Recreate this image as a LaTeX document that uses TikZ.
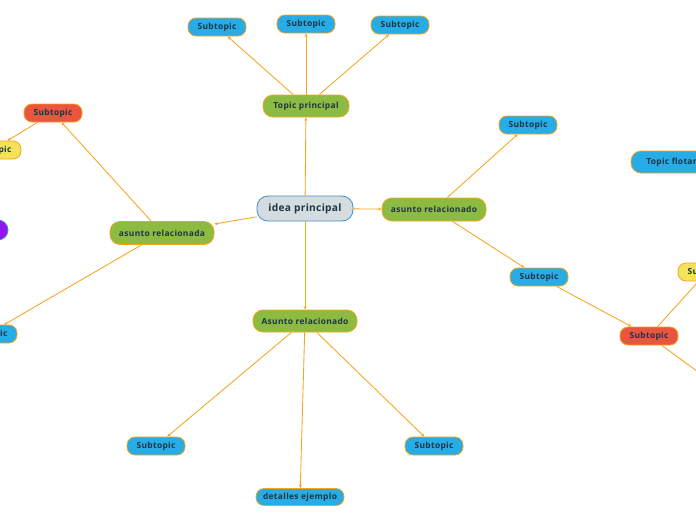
\documentclass[tikz,border=0pt]{standalone}
\usepackage{fontspec}
\setmainfont{Open Sans}
\definecolor{mapline}{HTML}{F6A31E}
\definecolor{mapgreen}{HTML}{8BBC41}
\definecolor{mapblue}{HTML}{27ACE6}
\definecolor{mapred}{HTML}{E9553F}
\definecolor{mapyellow}{HTML}{F3E35A}
\definecolor{mappurple}{HTML}{9513F0}
\definecolor{mapgray}{HTML}{D4DCE0}
\definecolor{mapframe}{HTML}{3E8FD2}
\definecolor{maptext}{HTML}{1C3547}
\usetikzlibrary{arrows.meta, positioning}

\begin{document}
\begin{tikzpicture}[x=1pt, y=-1pt,
    central/.style={rectangle, rounded corners=11pt, fill=mapgray, draw=mapframe,
                    line width=0.8pt, minimum width=96pt, minimum height=25pt,
                    font=\bfseries\fontsize{10.2}{12}\selectfont\addfontfeatures{LetterSpace=3},
                    text=maptext},
    topic/.style={rectangle, rounded corners=10pt, fill=mapgreen, draw=mapline,
                  line width=0.8pt, minimum width=104pt, minimum height=23pt,
                  font=\bfseries\fontsize{8.4}{10}\selectfont\addfontfeatures{LetterSpace=4},
                  text=maptext},
    sub/.style={rectangle, rounded corners=8pt, fill=mapblue, draw=mapline,
                line width=0.8pt, minimum width=58pt, minimum height=18pt,
                font=\bfseries\fontsize{8.4}{10}\selectfont\addfontfeatures{LetterSpace=4},
                text=maptext},
    subred/.style={sub, fill=mapred},
    subyellow/.style={sub, fill=mapyellow},
    link/.style={-{Stealth[length=3.5pt, width=3pt]}, mapline, line width=0.85pt}
  ]
    \useasboundingbox (0,0) rectangle (696,520);
    \clip (0,0) rectangle (696,520);
    % Central idea
    \node[central] (idea) at (305, 208.5) {idea principal};
    % Main topics
    \node[topic, minimum width=86pt, minimum height=22pt] (tp) at (306, 106) {Topic principal};
    \node[topic] (ar) at (434, 209.5) {asunto relacionado};
    \node[topic] (al) at (162, 233) {asunto relacionada};
    \node[topic, minimum height=22pt] (ab) at (305, 321) {Asunto relacionado};
    % Subtopics (top)
    \node[sub] (t1) at (217, 27) {Subtopic};
    \node[sub] (t2) at (306, 24) {Subtopic};
    \node[sub] (t3) at (400, 25) {Subtopic};
    % Subtopics (right)
    \node[sub] (r1) at (528, 125) {Subtopic};
    \node[sub] (r2) at (539, 277) {Subtopic};
    \node[subred] (r3) at (649, 336) {Subtopic};
    \node[subyellow] (r4) at (707, 272) {Subtopic};
    \coordinate (r5) at (720, 388);
    % Subtopics (left)
    \node[subred] (l1) at (53, 113) {Subtopic};
    \node[subyellow] (l2) at (-8, 150) {Subtopic};
    \node[sub] (l3) at (-12, 334) {Subtopic};
    \node[circle, fill=mappurple, draw=mapframe, line width=0.8pt,
          minimum size=20pt] (dot) at (-2, 230) {};
    % Subtopics (bottom)
    \node[sub] (b1) at (156, 446) {Subtopic};
    \node[sub] (b2) at (434, 446) {Subtopic};
    \node[sub, minimum width=88pt, minimum height=17pt] (b3) at (300, 497) {detalles ejemplo};
    % Floating topic
    \node[sub, rounded corners=10pt, minimum width=92pt, minimum height=22pt] (fl) at (677, 162) {Topic flotante};
    % Arrows: idea -> topics
    \draw[link] (idea) -- (tp);
    \draw[link] (idea) -- (ar);
    \draw[link] (idea) -- (al);
    \draw[link] (idea) -- (ab);
    % Arrows: topics -> subtopics
    \draw[link] (tp) -- (t1);
    \draw[link] (tp) -- (t2);
    \draw[link] (tp) -- (t3);
    \draw[link] (ar) -- (r1);
    \draw[link] (ar) -- (r2);
    \draw[link] (r2) -- (r3);
    \draw[link] (r3) -- (r4);
    \draw[link] (r3) -- (r5);
    \draw[link] (al) -- (l1);
    \draw[link] (l1) -- (l2);
    \draw[link] (al) -- (l3);
    \draw[link] (ab) -- (b1);
    \draw[link] (ab) -- (b3);
    \draw[link] (ab) -- (b2);
  \end{tikzpicture}
\end{document}
